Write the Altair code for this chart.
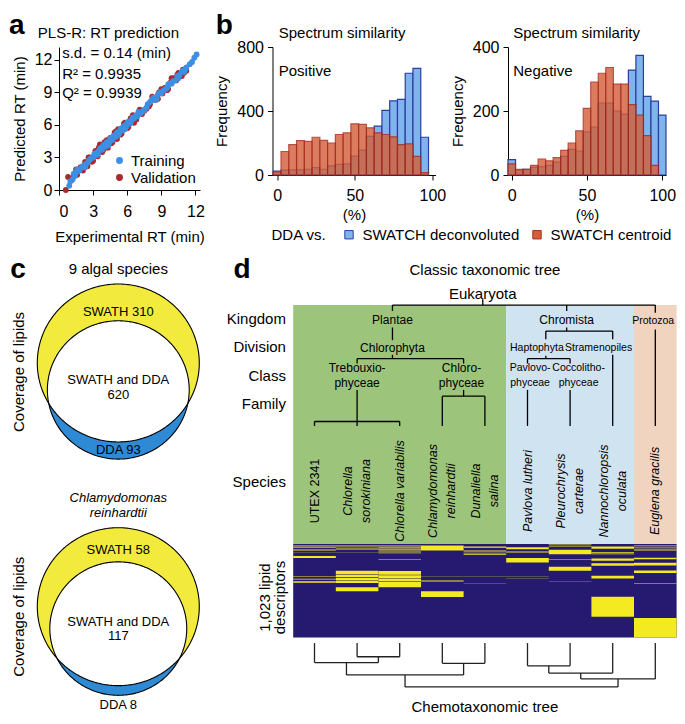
import math
import altair as alt
import numpy as np
import pandas as pd

FONT = "Liberation Sans"

# ------------------------------------------------------------------ panel a
train_exp = [0.9, 1.0, 1.2, 1.3, 1.5, 1.6, 1.8, 2.0, 2.2, 2.4, 2.6, 2.8, 3.0, 3.1, 3.3, 3.5, 3.6, 3.8, 3.9, 4.1,
             4.2, 4.4, 4.5, 4.7, 4.8, 5.0, 5.1, 5.3, 5.4, 5.6, 5.7, 5.9, 6.0, 6.2, 6.4, 6.6, 6.9, 7.2, 7.5, 7.8,
             8.1, 8.4, 8.7, 9.0, 9.2, 9.5, 9.7, 9.9, 10.2, 10.4, 10.6, 10.8, 11.0, 11.2, 11.5, 11.7, 11.9, 12.1,
             1.4, 1.7, 2.3, 2.7, 3.2, 3.4, 3.7, 4.0, 4.3, 4.6, 4.9, 5.2, 5.5, 5.8, 6.1, 6.3, 6.5, 6.8, 7.0, 7.4,
             7.7, 8.0, 8.3, 8.6, 8.9, 9.4, 9.6, 10.0, 10.5, 10.9, 11.1]
train_pred = [0.4, 0.8, 1.0, 1.5, 1.6, 1.9, 1.8, 2.1, 2.3, 2.4, 2.7, 2.9, 3.0, 3.3, 3.2, 3.6, 3.8, 3.7, 4.1, 4.0,
              4.4, 4.3, 4.7, 4.6, 5.0, 4.9, 5.3, 5.2, 5.6, 5.5, 5.9, 5.8, 6.2, 6.1, 6.5, 6.6, 6.8, 7.1, 7.4, 7.9,
              8.2, 8.3, 8.8, 8.9, 9.2, 9.4, 9.8, 9.8, 10.1, 10.5, 10.6, 10.9, 10.9, 11.3, 11.6, 11.8, 12.2, 12.5,
              1.3, 1.8, 2.1, 2.8, 3.4, 3.3, 3.9, 4.2, 4.1, 4.8, 5.0, 5.1, 5.7, 5.6, 6.3, 6.2, 6.7, 6.9, 7.2, 7.3,
              7.6, 8.1, 8.5, 8.4, 9.0, 9.3, 9.7, 10.0, 10.3, 11.0, 11.1]
valid_exp = [0.6, 0.8, 1.1, 1.3, 1.6, 1.9, 2.3, 2.5, 2.7, 2.9, 3.2, 3.4, 3.6, 3.8, 4.0, 4.3, 4.5, 4.6, 4.9, 5.1,
             5.2, 5.5, 5.8, 6.0, 6.3, 6.6, 6.8, 7.0, 7.3, 7.7, 8.0, 8.3, 8.5, 8.8, 9.1, 9.3, 9.6, 9.8, 10.1, 10.3,
             10.5, 10.7, 10.9, 11.0, 11.2,
             1.5, 2.1, 2.6, 3.0, 3.5, 3.9, 4.2, 4.7, 5.0, 5.4, 5.7, 6.1, 6.5, 7.1, 7.5, 7.9, 8.2, 8.7, 9.0, 9.5,
             9.9, 10.4, 10.8]
valid_pred = [0.0, 1.2, 0.9, 1.3, 1.4, 2.1, 2.6, 2.2, 3.0, 2.6, 3.6, 3.1, 4.2, 3.5, 4.4, 3.9, 4.8, 4.3, 5.3, 4.7,
              5.6, 5.2, 6.2, 5.7, 6.6, 6.2, 6.5, 7.2, 7.0, 7.5, 7.9, 8.4, 8.3, 9.0, 8.9, 9.4, 9.3, 9.9, 10.3, 10.1,
              10.8, 10.5, 11.1, 10.8, 11.0,
              1.9, 1.8, 3.0, 2.7, 3.9, 3.7, 4.6, 4.4, 5.4, 5.1, 6.1, 5.8, 6.9, 7.4, 7.3, 7.7, 8.6, 8.4, 9.3, 9.2,
              10.3, 10.6, 10.5]
fit_ends = [0.9, 11.2]
stats_text = ["s.d. = 0.14 (min)", "R\u00b2 = 0.9935", "Q\u00b2 = 0.9939"]
stats_pos = [12.65, 10.65, 8.97]
a_sets = ["Training", "Validation"]
a_colors = ["#3c8fe3", "#a82a2c"]

# ------------------------------------------------------------------ panel b
bin_centers = list(range(0, 101, 5))
pos_deconvoluted = [25, 30, 32, 32, 36, 46, 36, 57, 67, 69, 118, 156, 242, 305, 404, 463, 473, 636, 667, 236, 0]
pos_centroid = [20, 147, 190, 215, 210, 236, 217, 200, 253, 263, 320, 316, 295, 263, 253, 238, 190, 194, 116, 15, 0]
neg_deconvoluted = [48, 15, 18, 24, 26, 30, 40, 58, 80, 75, 135, 150, 225, 225, 200, 190, 328, 374, 246, 231, 187]
neg_centroid = [35, 18, 18, 30, 50, 44, 54, 77, 100, 138, 208, 290, 318, 336, 284, 284, 220, 187, 123, 30, 0]
SERIES = ["SWATCH deconvoluted", "SWATCH centroid"]
SERIES_FILL = ["#7fb4ec", "#d3603a"]
SERIES_EDGE = ["#2b3d9e", "#a8281c"]

# ------------------------------------------------------------------ panel c
venn_swath_only = [310, 58]
venn_shared = [620, 117]
venn_dda_only = [93, 8]
venn_center_y = [0.0, -3.086]
venn_label_y = [[0.65, -0.21, -0.40, -1.10], [0.72, -0.19, -0.37, -1.25]]

# ------------------------------------------------------------------ panel d
species_lines = [["UTEX 2341"], ["Chlorella", "sorokiniana"], ["Chlorella variabilis"],
                 ["Chlamydomonas", "reinhardtii"], ["Dunaliella", "salina"], ["Pavlova lutheri"],
                 ["Pleurochrysis", "carterae"], ["Nannochloropsis", "oculata"], ["Euglena gracilis"]]
species_italic = [False, True, True, True, True, True, True, True, True]
kingdom_first_col = [0, 5, 8]
kingdom_last_col = [5, 8, 9]
kingdom_fill = ["#9cc47b", "#d0e3f1", "#f1d4bf"]
rank_names = ["Kingdom", "Division", "Class", "Family", "Species"]
rank_y = [14.4, 43.4, 72.4, 101.0, 181.0]
tax_text = ["Eukaryota", "Plantae", "Chlorophyta", "Trebouxio-", "phyceae", "Chloro-", "phyceae", "Chromista",
            "Haptophyta", "Stramenopiles", "Pavlovo-", "phyceae", "Coccolitho-", "phyceae", "Protozoa"]
tax_x = [4.45, 2.33, 2.33, 1.5, 1.5, 3.95, 3.95, 6.42, 5.72, 7.17, 5.56, 5.56, 6.7, 6.7, 8.45]
tax_y = [-11.0, 15.0, 44.0, 65.0, 80.0, 65.0, 80.0, 15.0, 44.4, 44.4, 65.0, 80.0, 65.0, 80.0, 16.7]
tax_size = [15, 12, 12, 12, 12, 12, 12, 12, 10.5, 10.5, 10.5, 10.5, 10.5, 10.5, 10.5]
edge_x1 = [4.45, 2.33, 2.33, 6.42, 8.5, 2.33, 2.33, 1.5, 1.5, 4.0, 1.5, 0.5, 0.5, 2.5, 4.0, 3.5, 3.5, 4.5,
           6.42, 5.93, 5.93, 7.5, 5.93, 5.5, 5.5, 6.5, 5.5, 6.5, 7.5, 8.5]
edge_y1 = [-6, 0, 0, 0, 0, 23, 51, 55, 55, 55, 87, 119.4, 119.4, 119.4, 87, 93.4, 93.4, 93.4,
           23, 26.7, 26.7, 26.7, 52, 55, 55, 55, 87, 87, 51, 25]
edge_x2 = [4.45, 8.5, 2.33, 6.42, 8.5, 2.33, 2.33, 4.0, 1.5, 4.0, 1.5, 2.5, 0.5, 2.5, 4.0, 4.5, 3.5, 4.5,
           6.42, 7.5, 5.93, 7.5, 5.93, 6.5, 5.5, 6.5, 5.5, 6.5, 7.5, 8.5]
edge_y2 = [0, 0, 6, 6, 8, 36, 55, 55, 60, 60, 124, 119.4, 124, 124, 93.4, 93.4, 124, 124,
           26.7, 26.7, 35, 35, 55, 55, 60, 60, 124, 124, 124, 124]
HEAT_ROWS = 1023
yellow_blocks = [
    [(18, 24), (30, 35), (40, 45), (55, 60), (66, 71), (95, 100), (132, 153), (354, 360), (374, 379), (386, 392), (406, 413), (420, 426)],
    [(18, 24), (30, 36), (44, 50), (58, 64), (96, 100), (292, 330), (336, 365), (371, 394), (400, 428), (474, 517)],
    [(18, 24), (30, 35), (40, 46), (52, 57), (62, 68), (75, 80), (85, 90), (96, 102), (166, 170), (296, 336), (341, 372), (377, 408), (413, 474)],
    [(18, 71), (355, 359), (399, 410), (517, 581)],
    [(28, 43), (71, 76), (82, 89), (96, 102), (108, 117), (355, 359), (427, 431)],
    [(36, 57), (78, 83), (90, 96), (153, 203), (355, 359), (380, 384)],
    [(7, 12), (20, 28), (64, 114), (166, 170), (250, 292), (410, 414)],
    [(28, 53), (89, 95), (105, 114), (160, 185), (210, 239), (349, 378), (578, 795)],
    [(18, 22), (30, 36), (42, 48), (58, 64), (72, 78), (150, 167), (207, 235), (289, 317), (427, 432), (809, 1023)],
]
HEAT_NAVY = "#251a6f"
HEAT_YELLOW = "#f4ea22"
# dendrogram: (left member, right member, merge height); members >= 9 are earlier merges
merges = [(1, 2, 14.0), (0, 9, 20.0), (3, 4, 20.7), (10, 11, 32.7), (5, 6, 23.3), (13, 7, 30.7), (14, 8, 36.7), (12, 15, 45.0)]

LETTER = dict(fontSize=28, fontWeight="bold", align="left", baseline="top")

# ================================================================== panel a chart
df_a = pd.DataFrame({
    "exp": valid_exp + train_exp,
    "pred": valid_pred + train_pred,
    "set": ["Validation"] * len(valid_exp) + ["Training"] * len(train_exp),
})
sx_a = alt.Scale(domain=[0, 12.4], nice=False, zero=False)
sy_a = alt.Scale(domain=[0, 13.18], nice=False, zero=False)
ax_xa = alt.Axis(values=[0, 3, 6, 9, 12], title="Experimental RT (min)", labelPadding=8, titlePadding=10)
ax_ya = alt.Axis(values=[0, 3, 6, 9, 12], title="Predicted RT (min)", labelPadding=2, titlePadding=7)
XA = alt.X("exp:Q", scale=sx_a, axis=ax_xa)
YA = alt.Y("pred:Q", scale=sy_a, axis=ax_ya)

a_points = alt.Chart(df_a).mark_circle(size=34, opacity=1).encode(
    x=XA, y=YA,
    color=alt.Color("set:N", scale=alt.Scale(domain=a_sets, range=a_colors),
                    legend=alt.Legend(title=None, orient="bottom-right", offset=4, padding=0,
                                      symbolType="circle", symbolSize=48, labelFontSize=15,
                                      rowPadding=1, labelOffset=4, symbolOpacity=1)),
)
a_fit = alt.Chart(pd.DataFrame({"exp": fit_ends, "pred": fit_ends})).mark_line(
    color="black", strokeDash=[3, 2], strokeWidth=1).encode(x=XA, y=YA)
a_stats = alt.Chart(pd.DataFrame({"exp": [0.28] * 3, "pred": stats_pos, "t": stats_text})).mark_text(
    align="left", baseline="middle", fontSize=15).encode(x=XA, y=YA, text="t:N")
a_title = alt.Chart(pd.DataFrame({"exp": [-1.86], "pred": [14.04], "t": ["PLS-R: RT prediction"]})).mark_text(
    align="left", baseline="alphabetic", fontSize=15).encode(x=XA, y=YA, text="t:N")
a_letter = alt.Chart(pd.DataFrame({"exp": [-4.4], "pred": [16.38], "t": ["a"]})).mark_text(
    **LETTER).encode(x=XA, y=YA, text="t:N")
panel_a = alt.layer(a_fit, a_points, a_stats, a_title, a_letter).properties(width=141, height=143)


# ================================================================== panel b charts
def hist_panel(deconv, centroid, ymax, yvals, xdom, width, legend, label, label_n, title_x, title_n,
               letter=None, letter_x=0, letter_n=0):
    rows = []
    for c, nd, nc in zip(bin_centers, deconv, centroid):
        rows.append({"lo": c - 2.5, "hi": c + 2.5, "n": nd, "z": 0, "series": SERIES[0]})
        rows.append({"lo": c - 2.5, "hi": c + 2.5, "n": nc, "z": 0, "series": SERIES[1]})
    df = pd.DataFrame(rows)
    df = df[df["n"] > 0]
    sx = alt.Scale(domain=xdom, nice=False, zero=False)
    sy = alt.Scale(domain=[0, ymax], nice=False)
    X = alt.X("lo:Q", scale=sx, axis=alt.Axis(values=[0, 50, 100], title="(%)", labelPadding=7, titlePadding=4))
    Y = alt.Y("n:Q", scale=sy, axis=alt.Axis(values=yvals, title="Frequency", labelPadding=4, titlePadding=7))
    col = alt.Color("series:N", scale=alt.Scale(domain=SERIES, range=SERIES_FILL), legend=legend)
    stk = alt.Stroke("series:N", scale=alt.Scale(domain=SERIES, range=SERIES_EDGE), legend=legend)
    base = alt.Chart(df).encode(x=X, x2="hi:Q", y=Y, y2="z:Q", color=col, stroke=stk)
    blue = base.transform_filter(alt.datum.series == SERIES[0]).mark_bar(strokeWidth=1.2)
    red = base.transform_filter(alt.datum.series == SERIES[1]).mark_bar(strokeWidth=1.2, opacity=0.82)
    lab = alt.Chart(pd.DataFrame({"lo": [title_x], "n": [label_n], "t": [label]})).mark_text(
        align="left", baseline="alphabetic", fontSize=15).encode(x=X, y=Y, text="t:N")
    ttl = alt.Chart(pd.DataFrame({"lo": [title_x], "n": [title_n], "t": ["Spectrum similarity"]})).mark_text(
        align="left", baseline="alphabetic", fontSize=15).encode(x=X, y=Y, text="t:N")
    layers = [blue, red, lab, ttl]
    if letter:
        let = alt.Chart(pd.DataFrame({"lo": [letter_x], "n": [letter_n], "t": [letter]})).mark_text(
            **LETTER).encode(x=X, y=Y, text="t:N")
        layers.append(let)
    return alt.layer(*layers).properties(width=width, height=128)


legend_b = alt.Legend(orient="none", legendX=-1, legendY=180, direction="horizontal", title="DDA vs.",
                      titleOrient="left", titleFontSize=15, titleFontWeight="normal", titlePadding=14,
                      labelFontSize=15, symbolType="square", symbolSize=70, symbolStrokeWidth=1,
                      columnPadding=10, labelOffset=6, symbolOpacity=1)
panel_b1 = hist_panel(pos_deconvoluted, pos_centroid, 800, [0, 400, 800], [-3, 102], 163, legend_b,
                      "Positive", 621, 1, 858, "b", -39.5, 1017)
panel_b2 = hist_panel(neg_deconvoluted, neg_centroid, 400, [0, 200, 400], [-2.5, 102.5], 158, None,
                      "Negative", 310, 1, 429)


# ================================================================== panel c chart
def lens_area(d, r1, r2):
    a1 = r1 ** 2 * math.acos((d * d + r1 * r1 - r2 * r2) / (2 * d * r1))
    a2 = r2 ** 2 * math.acos((d * d + r2 * r2 - r1 * r1) / (2 * d * r2))
    a3 = 0.5 * math.sqrt((-d + r1 + r2) * (d + r1 - r2) * (d - r1 + r2) * (d + r1 + r2))
    return a1 + a2 - a3


areas, rings, texts = [], [], []
for i in range(2):
    cy = venn_center_y[i]
    s_tot = venn_swath_only[i] + venn_shared[i]
    d_tot = venn_dda_only[i] + venn_shared[i]
    rb = math.sqrt(d_tot / s_tot)                       # SWATH circle radius = 1, areas proportional
    target = venn_shared[i] / s_tot * math.pi
    lo_d, hi_d = 1 - rb + 1e-9, 1 + rb - 1e-9
    for _ in range(80):
        mid = 0.5 * (lo_d + hi_d)
        if lens_area(mid, 1.0, rb) > target:
            lo_d = mid
        else:
            hi_d = mid
    d = 0.5 * (lo_d + hi_d)                             # DDA centre lies d below SWATH centre

    t = np.linspace(-1, 1, 401)
    areas.append(pd.DataFrame({"x": t, "y": cy - np.sqrt(1 - t ** 2), "y2": cy + np.sqrt(1 - t ** 2),
                               "f": "#f2ea3c", "v": i, "part": 0}))
    tb = np.linspace(-rb, rb, 401)
    areas.append(pd.DataFrame({"x": tb, "y": cy - d - np.sqrt(rb ** 2 - tb ** 2),
                               "y2": cy - d + np.sqrt(rb ** 2 - tb ** 2), "f": "#2f8ad6", "v": i, "part": 1}))
    low = np.maximum(-np.sqrt(np.clip(1 - tb ** 2, 0, None)), -d - np.sqrt(np.clip(rb ** 2 - tb ** 2, 0, None)))
    up = np.minimum(np.sqrt(np.clip(1 - tb ** 2, 0, None)), -d + np.sqrt(np.clip(rb ** 2 - tb ** 2, 0, None)))
    areas.append(pd.DataFrame({"x": tb, "y": cy + low, "y2": cy + np.maximum(low, up),
                               "f": "#ffffff", "v": i, "part": 2}))
    ang = np.linspace(0, 2 * math.pi, 361)
    rings.append(pd.DataFrame({"x": np.cos(ang), "y": cy + np.sin(ang), "k": f"s{i}", "o": np.arange(361)}))
    rings.append(pd.DataFrame({"x": rb * np.cos(ang), "y": cy - d + rb * np.sin(ang), "k": f"d{i}",
                               "o": np.arange(361)}))
    ly = venn_label_y[i]
    texts.append(pd.DataFrame({
        "x": [0, 0, 0, 0],
        "y": [cy + v for v in ly],
        "t": [f"SWATH {venn_swath_only[i]}", "SWATH and DDA", f"{venn_shared[i]}", f"DDA {venn_dda_only[i]}"],
    }))

area_df = pd.concat(areas, ignore_index=True)
ring_df = pd.concat(rings, ignore_index=True)
text_df = pd.concat(texts, ignore_index=True)

VSCALE = 0.975                                  # slight vertical compaction of the lower row
C_XDOM = [-0.732, 1.27]
C_YDOM = [-4.226, 1.0]
sx_c = alt.Scale(domain=C_XDOM, nice=False, zero=False)
sy_c = alt.Scale(domain=C_YDOM, nice=False, zero=False)
XC = alt.X("x:Q", scale=sx_c, axis=None)
YC = alt.Y("y:Q", scale=sy_c, axis=None)
c_layers = []
for p in range(3):
    c_layers.append(alt.Chart(area_df[area_df["part"] == p]).mark_area(orient="vertical").encode(
        x=XC, y=YC, y2="y2:Q", detail="v:N", color=alt.Color("f:N", scale=None)))
c_layers.append(alt.Chart(ring_df).mark_line(color="black", strokeWidth=1.1).encode(
    x=XC, y=YC, detail="k:N", order="o:Q"))
c_layers.append(alt.Chart(text_df).mark_text(fontSize=13, baseline="middle").encode(x=XC, y=YC, text="t:N"))
c_layers.append(alt.Chart(pd.DataFrame({"x": [0], "y": [venn_center_y[0] + 1.13], "t": ["9 algal species"]})
                          ).mark_text(fontSize=15, baseline="alphabetic").encode(x=XC, y=YC, text="t:N"))
c_layers.append(alt.Chart(pd.DataFrame({"x": [0, 0], "y": [venn_center_y[1] + 1.37, venn_center_y[1] + 1.185],
                                        "t": ["Chlamydomonas", "reinhardtii"]})
                          ).mark_text(fontSize=13, fontStyle="italic", baseline="middle").encode(x=XC, y=YC, text="t:N"))
c_layers.append(alt.Chart(pd.DataFrame({"x": [-1.223, -1.223], "y": [venn_center_y[0] - 0.114, venn_center_y[1] - 0.127],
                                        "t": ["Coverage of lipids"] * 2})
                          ).mark_text(fontSize=15, angle=270, baseline="middle").encode(x=XC, y=YC, text="t:N"))
c_layers.append(alt.Chart(pd.DataFrame({"x": [-1.333], "y": [1.356], "t": ["c"]})).mark_text(
    **LETTER).encode(x=XC, y=YC, text="t:N"))
panel_c = alt.layer(*c_layers).properties(width=(C_XDOM[1] - C_XDOM[0]) * 81,
                                          height=(C_YDOM[1] - C_YDOM[0]) * 81 * VSCALE)

# ================================================================== panel d chart
COLW = 42.6
HEAT_TOP, HEAT_SPAN, DEND_TOP, TREE_TOP, PANEL_BOTTOM = 245.0, 96.0, 346.7, -21.6, 391.7
XD = alt.Scale(domain=[0, 9], nice=False, zero=False)
sy_d = alt.Scale(domain=[TREE_TOP, PANEL_BOTTOM], nice=False, zero=False, reverse=True)
XT = alt.X("x:Q", scale=XD, axis=None)
YT = alt.Y("y:Q", scale=sy_d, axis=None)

bg = alt.Chart(pd.DataFrame({"x": kingdom_first_col, "x2": kingdom_last_col, "y": [0] * 3, "y2": [HEAT_TOP] * 3,
                             "f": kingdom_fill})).mark_rect().encode(
    x=XT, x2="x2:Q", y=YT, y2="y2:Q", color=alt.Color("f:N", scale=None))
edges = alt.Chart(pd.DataFrame({"x": edge_x1, "y": edge_y1, "x2": edge_x2, "y2": edge_y2})).mark_rule(
    color="black", strokeWidth=1.3).encode(x=XT, y=YT, x2="x2:Q", y2="y2:Q")
tax_lab = alt.Chart(pd.DataFrame({"x": tax_x, "y": tax_y, "t": tax_text, "s": tax_size})).mark_text(
    baseline="middle").encode(x=XT, y=YT, text="t:N", size=alt.Size("s:Q", scale=None))
rank_lab = alt.Chart(pd.DataFrame({"x": [-0.17] * 5, "y": rank_y, "t": rank_names})).mark_text(
    align="right", baseline="middle", fontSize=15).encode(x=XT, y=YT, text="t:N")
sp_rows = []
for i, lines in enumerate(species_lines):
    n = len(lines)
    for j, line in enumerate(lines):
        off = (j - (n - 1) / 2) * 0.42
        sp_rows.append({"x": i + 0.5 + off, "y": 190.7, "t": line, "it": species_italic[i]})
sp_df = pd.DataFrame(sp_rows)
sp_it = alt.Chart(sp_df[sp_df["it"]]).mark_text(angle=270, fontSize=12.5, fontStyle="italic",
                                                 baseline="middle").encode(x=XT, y=YT, text="t:N")
sp_rm = alt.Chart(sp_df[~sp_df["it"]]).mark_text(angle=270, fontSize=12.5,
                                                  baseline="middle").encode(x=XT, y=YT, text="t:N")
d_title = alt.Chart(pd.DataFrame({"x": [4.5], "y": [-31.3], "t": ["Classic taxonomic tree"]})).mark_text(
    fontSize=15, baseline="alphabetic").encode(x=XT, y=YT, text="t:N")
d_letter = alt.Chart(pd.DataFrame({"x": [-1.4], "y": [-50.4], "t": ["d"]})).mark_text(
    **LETTER).encode(x=XT, y=YT, text="t:N")

heat_rows = [{"x": 0, "x2": 9, "y": HEAT_TOP, "y2": HEAT_TOP + HEAT_SPAN, "f": HEAT_NAVY}]
for i, blocks in enumerate(yellow_blocks):
    for s, e in blocks:
        heat_rows.append({"x": i, "x2": i + 1, "y": HEAT_TOP + s * HEAT_SPAN / HEAT_ROWS,
                          "y2": HEAT_TOP + e * HEAT_SPAN / HEAT_ROWS, "f": HEAT_YELLOW})
heat = alt.Chart(pd.DataFrame(heat_rows)).mark_rect().encode(
    x=XT, x2="x2:Q", y=YT, y2="y2:Q", color=alt.Color("f:N", scale=None))
heat_title = alt.Chart(pd.DataFrame({"x": [-0.66, -0.31], "y": [300.0, 300.0],
                                     "t": ["1,023 lipid", "descriptors"]})).mark_text(
    fontSize=15, angle=270, baseline="middle").encode(x=XT, y=YT, text="t:N")

node_x = {i: i + 0.5 for i in range(9)}
node_h = {i: 0.0 for i in range(9)}
seg = []
for k, (a, b, h) in enumerate(merges):
    nid = 9 + k
    seg.append({"x": node_x[a], "x2": node_x[a], "y": DEND_TOP + node_h[a], "y2": DEND_TOP + h})
    seg.append({"x": node_x[b], "x2": node_x[b], "y": DEND_TOP + node_h[b], "y2": DEND_TOP + h})
    seg.append({"x": node_x[a], "x2": node_x[b], "y": DEND_TOP + h, "y2": DEND_TOP + h})
    node_x[nid] = 0.5 * (node_x[a] + node_x[b])
    node_h[nid] = h
dendro = alt.Chart(pd.DataFrame(seg)).mark_rule(color="#222222", strokeWidth=1.3).encode(
    x=XT, x2="x2:Q", y=YT, y2="y2:Q")
dendro_title = alt.Chart(pd.DataFrame({"x": [4.5], "y": [412.7], "t": ["Chemotaxonomic tree"]})).mark_text(
    fontSize=15, baseline="middle").encode(x=XT, y=YT, text="t:N")

panel_d = alt.layer(bg, edges, tax_lab, rank_lab, sp_it, sp_rm, d_title, d_letter, heat, heat_title,
                    dendro, dendro_title).properties(width=9 * COLW,
                                                     height=(PANEL_BOTTOM - TREE_TOP) * VSCALE)

# ================================================================== layout (rows placed flush on plot areas)
top = alt.hconcat(panel_a, panel_b1, panel_b2, spacing=72.5, bounds="flush").resolve_scale(
    color="independent", stroke="independent")
bottom = alt.hconcat(panel_c, panel_d, spacing=71.2, bounds="flush").resolve_scale(
    color="independent", stroke="independent")

chart = alt.vconcat(top, bottom, spacing=11).resolve_scale(
    color="independent", stroke="independent"
).properties(padding={"top": 4, "left": 0, "right": 0, "bottom": 0}).configure_view(stroke=None).configure_axis(
    grid=False, labelFont=FONT, titleFont=FONT, labelFontSize=16, titleFontSize=15,
    titleFontWeight="normal", labelColor="black", titleColor="black", domainColor="black",
    tickColor="black", tickSize=5, domainWidth=1, tickWidth=1,
).configure_legend(labelFont=FONT, titleFont=FONT, labelColor="black", titleColor="black").configure_text(
    font=FONT, color="black")

chart.save("out.html", embed_options={"renderer": "svg", "actions": False})
